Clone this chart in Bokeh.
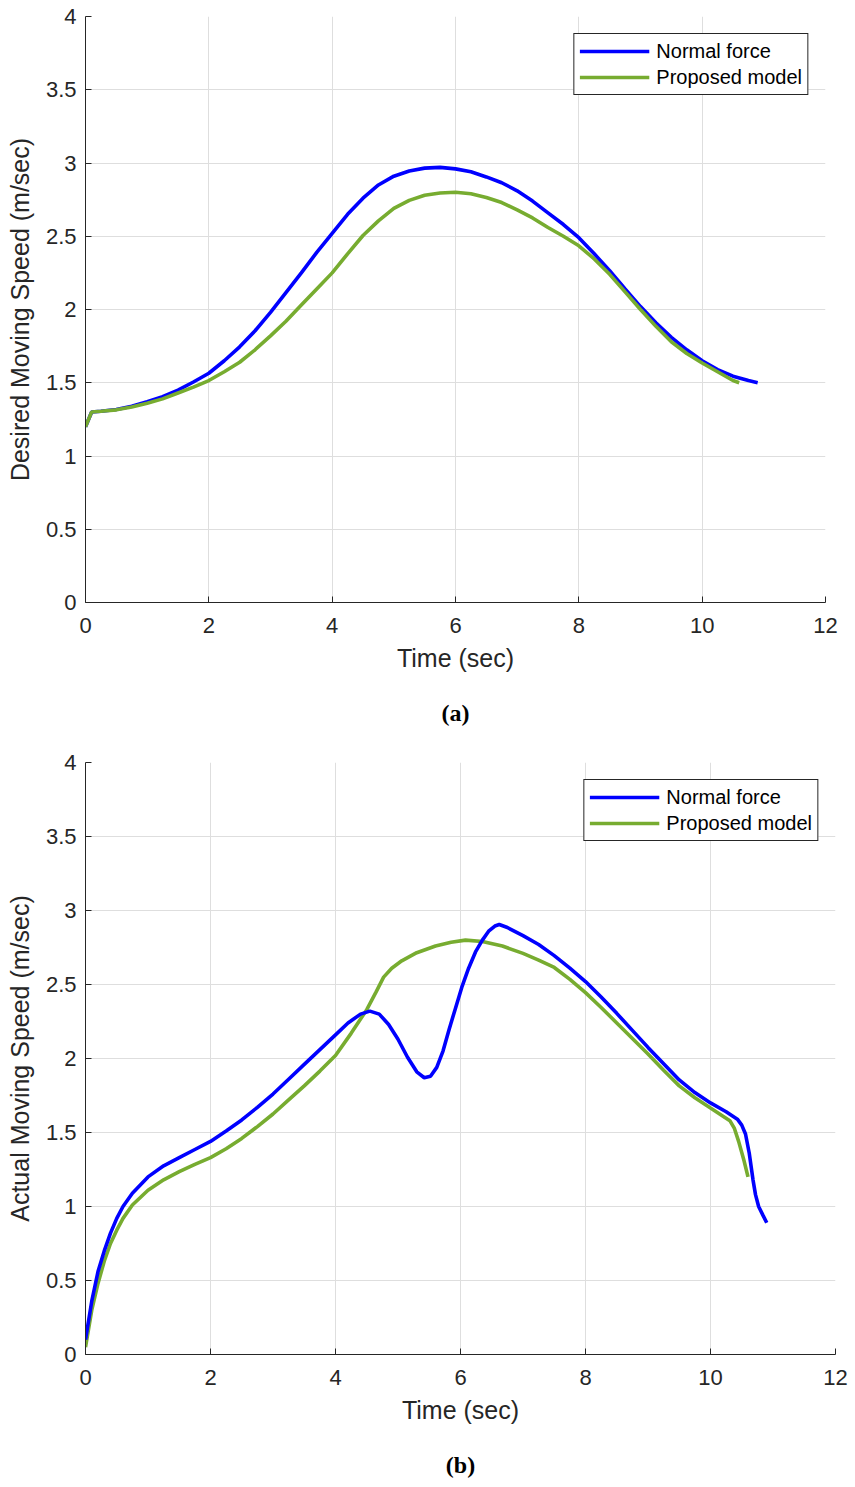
from bokeh.plotting import figure
from bokeh.models import (Legend, LegendItem, Title, Range1d, FixedTicker,
                          NumeralTickFormatter)
from bokeh.layouts import column
from bokeh.embed import file_html
from bokeh.resources import INLINE

# ---------------- data ----------------
x_ticks = [0, 2, 4, 6, 8, 10, 12]
y_ticks = [0, 0.5, 1, 1.5, 2, 2.5, 3, 3.5, 4]
series_names = ["Normal force", "Proposed model"]

# (a) Desired moving speed
t_a_normal = [0, 0.1, 0.25, 0.5, 0.75, 1.0, 1.25, 1.5, 1.75, 2.0, 2.25, 2.5, 2.75,
              3.0, 3.25, 3.5, 3.75, 4.0, 4.25, 4.5, 4.75, 5.0, 5.25, 5.5, 5.75,
              6.0, 6.25, 6.5, 6.75, 7.0, 7.25, 7.5, 7.75, 8.0, 8.25, 8.5, 8.75,
              9.0, 9.25, 9.5, 9.75, 10.0, 10.25, 10.5, 10.75, 10.9]
v_a_normal = [1.2, 1.30, 1.305, 1.318, 1.34, 1.37, 1.405, 1.45, 1.505, 1.565, 1.65,
              1.745, 1.855, 1.98, 2.115, 2.25, 2.39, 2.52, 2.65, 2.76, 2.85, 2.91,
              2.945, 2.965, 2.97, 2.96, 2.94, 2.905, 2.865, 2.81, 2.74, 2.66, 2.58,
              2.49, 2.38, 2.265, 2.14, 2.02, 1.91, 1.81, 1.725, 1.65, 1.59, 1.545,
              1.515, 1.50]
t_a_model = [0, 0.1, 0.25, 0.5, 0.75, 1.0, 1.25, 1.5, 1.75, 2.0, 2.25, 2.5, 2.75,
             3.0, 3.25, 3.5, 3.75, 4.0, 4.25, 4.5, 4.75, 5.0, 5.25, 5.5, 5.75, 6.0,
             6.25, 6.5, 6.75, 7.0, 7.25, 7.5, 7.75, 8.0, 8.25, 8.5, 8.75, 9.0,
             9.25, 9.5, 9.75, 10.0, 10.25, 10.5, 10.6]
v_a_model = [1.2, 1.30, 1.305, 1.315, 1.335, 1.36, 1.39, 1.43, 1.47, 1.515, 1.575,
             1.64, 1.725, 1.82, 1.92, 2.03, 2.14, 2.25, 2.38, 2.505, 2.605, 2.69,
             2.745, 2.78, 2.795, 2.80, 2.79, 2.765, 2.73, 2.68, 2.625, 2.56, 2.50,
             2.435, 2.345, 2.24, 2.12, 2.00, 1.885, 1.78, 1.70, 1.635, 1.575,
             1.515, 1.50]

# (b) Actual moving speed
t_b_normal = [0, 0.1, 0.2, 0.3, 0.4, 0.5, 0.6, 0.75, 1.0, 1.25, 1.5, 1.75, 2.0,
              2.25, 2.5, 2.75, 3.0, 3.25, 3.5, 3.75, 4.0, 4.2, 4.4, 4.55, 4.7,
              4.85, 5.0, 5.15, 5.3, 5.42, 5.52, 5.62, 5.72, 5.82, 5.92, 6.02,
              6.13, 6.24, 6.35, 6.45, 6.55, 6.62, 6.75, 7.0, 7.25, 7.5, 7.75, 8.0,
              8.25, 8.5, 8.75, 9.0, 9.25, 9.5, 9.75, 10.0, 10.25, 10.43, 10.5,
              10.56, 10.62, 10.68, 10.72, 10.77, 10.84, 10.9]
v_b_normal = [0.1, 0.36, 0.56, 0.70, 0.82, 0.92, 1.00, 1.09, 1.20, 1.275, 1.33,
              1.385, 1.44, 1.51, 1.585, 1.67, 1.76, 1.86, 1.96, 2.06, 2.16, 2.24,
              2.30, 2.32, 2.30, 2.23, 2.13, 2.01, 1.91, 1.87, 1.88, 1.94, 2.05,
              2.20, 2.34, 2.48, 2.61, 2.72, 2.80, 2.86, 2.895, 2.905, 2.885, 2.83,
              2.77, 2.695, 2.61, 2.52, 2.415, 2.305, 2.19, 2.075, 1.965, 1.855,
              1.77, 1.70, 1.64, 1.59, 1.55, 1.49, 1.36, 1.18, 1.08, 1.0, 0.94,
              0.89]
t_b_model = [0, 0.1, 0.2, 0.3, 0.4, 0.5, 0.6, 0.75, 1.0, 1.25, 1.5, 1.75, 2.0,
             2.25, 2.5, 2.75, 3.0, 3.25, 3.5, 3.75, 4.0, 4.25, 4.5, 4.65, 4.77,
             4.9, 5.06, 5.3, 5.6, 5.85, 6.08, 6.35, 6.67, 7.0, 7.25, 7.5, 7.75,
             8.0, 8.25, 8.5, 8.75, 9.0, 9.25, 9.5, 9.75, 10.0, 10.2, 10.31, 10.38,
             10.45, 10.53, 10.6]
v_b_model = [0.05, 0.30, 0.48, 0.63, 0.75, 0.84, 0.92, 1.01, 1.11, 1.18, 1.235,
             1.285, 1.33, 1.39, 1.46, 1.54, 1.625, 1.72, 1.815, 1.915, 2.02, 2.17,
             2.33, 2.45, 2.55, 2.61, 2.66, 2.715, 2.76, 2.785, 2.80, 2.79, 2.76,
             2.71, 2.665, 2.615, 2.535, 2.445, 2.345, 2.24, 2.135, 2.03, 1.92,
             1.815, 1.735, 1.665, 1.61, 1.58, 1.53, 1.44, 1.32, 1.20]

BLUE = "#0000FF"
GREEN = "#77AC30"
AX = "#262626"
FONT = "Liberation Sans"


def make_panel(t_n, v_n, t_m, v_m, ylabel, caption, fw, fh, left, top, right,
               bottom, green_on_top):
    p = figure(output_backend="svg", toolbar_location=None,
               frame_width=fw, frame_height=fh,
               x_range=Range1d(0, 12), y_range=Range1d(0, 4),
               min_border_left=left, min_border_top=top,
               min_border_right=right, min_border_bottom=bottom)
    p.outline_line_color = None
    p.background_fill_color = "white"
    p.border_fill_color = "white"

    if green_on_top:
        rn = p.line(t_n, v_n, line_color=BLUE, line_width=3.6)
        rm = p.line(t_m, v_m, line_color=GREEN, line_width=3.6)
    else:
        rm = p.line(t_m, v_m, line_color=GREEN, line_width=3.6)
        rn = p.line(t_n, v_n, line_color=BLUE, line_width=3.6)

    for ax in (p.xaxis[0], p.yaxis[0]):
        ax.axis_line_color = AX
        ax.axis_line_width = 1
        ax.major_tick_line_color = AX
        ax.major_tick_in = 6
        ax.major_tick_out = 0
        ax.minor_tick_line_color = None
        ax.major_label_text_font = FONT
        ax.major_label_text_font_size = "22px"
        ax.major_label_text_color = AX
        ax.axis_label_text_font = FONT
        ax.axis_label_text_font_size = "25px"
        ax.axis_label_text_font_style = "normal"
        ax.axis_label_text_color = AX
    p.xaxis[0].ticker = FixedTicker(ticks=x_ticks)
    p.yaxis[0].ticker = FixedTicker(ticks=y_ticks)
    p.yaxis[0].formatter = NumeralTickFormatter(format="0.[0]")
    p.xaxis[0].formatter = NumeralTickFormatter(format="0")
    p.xaxis[0].axis_label = "Time (sec)"
    p.yaxis[0].axis_label = ylabel
    p.xaxis[0].major_label_standoff = 15
    p.yaxis[0].major_label_standoff = 9
    p.xaxis[0].axis_label_standoff = 8
    p.yaxis[0].axis_label_standoff = 9

    p.xgrid[0].ticker = FixedTicker(ticks=x_ticks)
    p.ygrid[0].ticker = FixedTicker(ticks=y_ticks)
    for g in (p.xgrid[0], p.ygrid[0]):
        g.grid_line_color = "#dedede"
        g.grid_line_width = 1

    legend = Legend(items=[LegendItem(label=series_names[0], renderers=[rn]),
                           LegendItem(label=series_names[1], renderers=[rm])],
                    location="top_right", margin=17, padding=5, spacing=2,
                    glyph_width=70, glyph_height=24, label_height=24,
                    label_standoff=7,
                    label_text_font=FONT, label_text_font_size="20px",
                    label_text_color="black",
                    border_line_color=AX, border_line_width=1,
                    border_line_alpha=1, background_fill_alpha=1)
    p.add_layout(legend)

    cap = Title(text=caption, align="center", text_font="Liberation Serif",
                text_font_size="24px", text_font_style="bold", text_color="black",
                standoff=46)
    p.add_layout(cap, "below")
    return p


pa = make_panel(t_a_normal, v_a_normal, t_a_model, v_a_model,
                "Desired Moving Speed (m/sec)", "(a)",
                740, 586, 85, 16, 30, 143, True)
pb = make_panel(t_b_normal, v_b_normal, t_b_model, v_b_model,
                "Actual Moving Speed (m/sec)", "(b)",
                750, 592, 84, 14, 21, 130, False)

layout = column(pa, pb, spacing=0)
open("out.html", "w").write(file_html(layout, INLINE))
